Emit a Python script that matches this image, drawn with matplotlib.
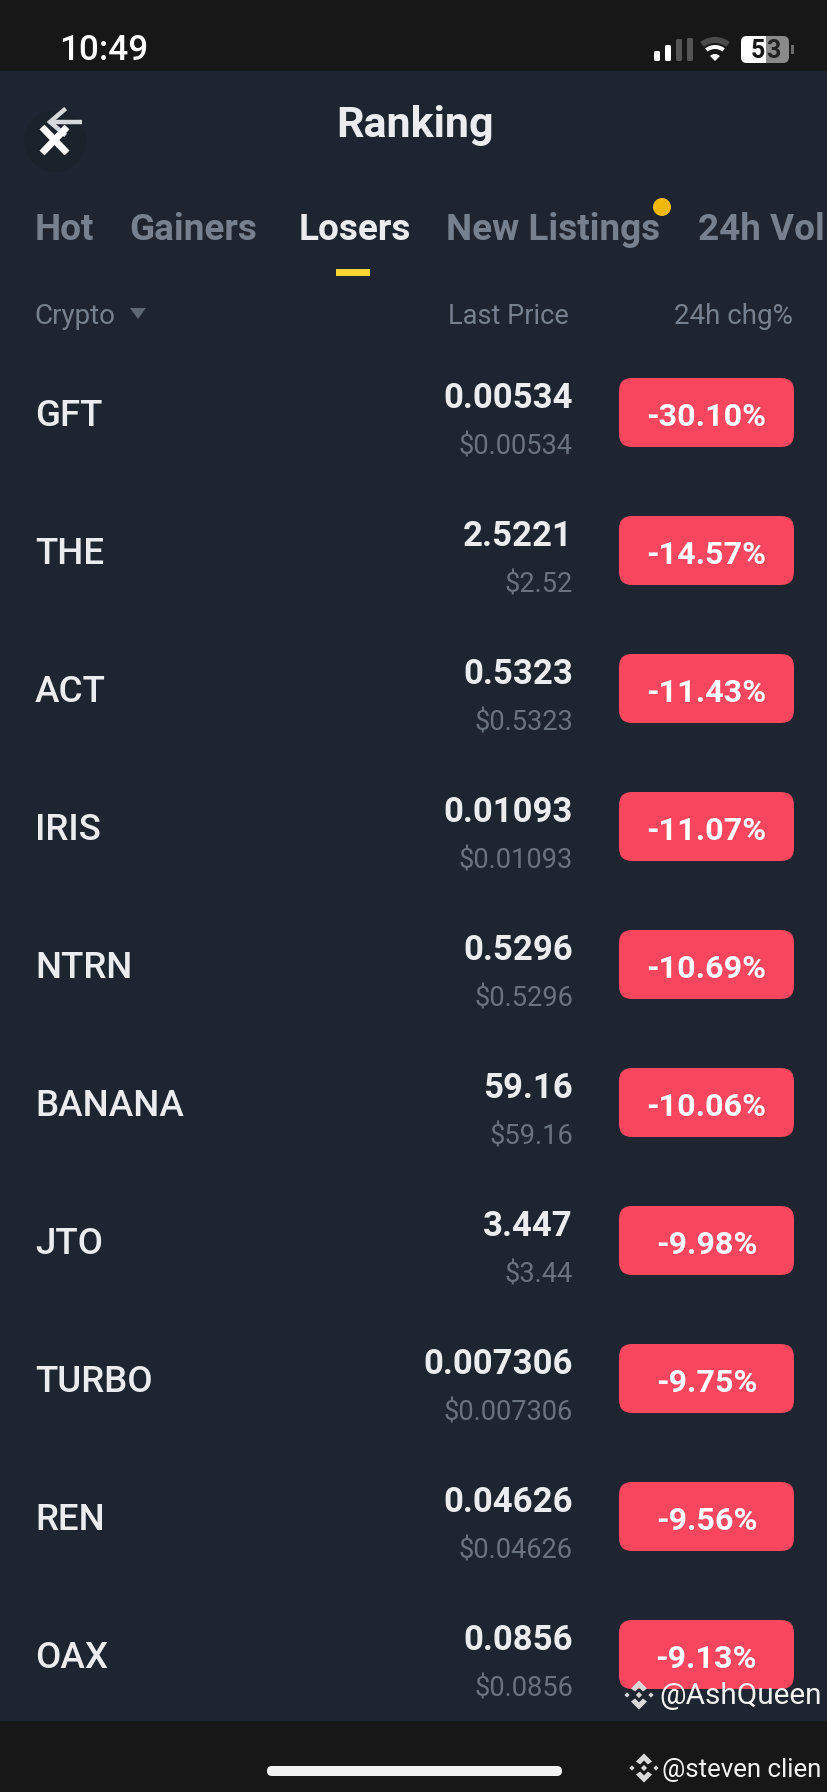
#!/usr/bin/env python3
"""Binance "Losers" ranking screen, redrawn with matplotlib. Saves out.png."""
import matplotlib

matplotlib.use("Agg")
import matplotlib.pyplot as plt
from matplotlib.patches import Circle, FancyBboxPatch, Polygon, Rectangle, Wedge

plt.rcParams["font.family"] = ["Roboto", "DejaVu Sans"]

SYMBOLS = ["GFT", "THE", "ACT", "IRIS", "NTRN", "BANANA", "JTO", "TURBO", "REN", "OAX"]
PRICES = ["0.00534", "2.5221", "0.5323", "0.01093", "0.5296", "59.16", "3.447",
          "0.007306", "0.04626", "0.0856"]
USD_PRICES = ["$0.00534", "$2.52", "$0.5323", "$0.01093", "$0.5296", "$59.16", "$3.44",
              "$0.007306", "$0.04626", "$0.0856"]
CHANGES = [-30.10, -14.57, -11.43, -11.07, -10.69, -10.06, -9.98, -9.75, -9.56, -9.13]

TABS = ["Hot", "Gainers", "Losers", "New Listings", "24h Vol"]
TAB_X = [35, 129, 299, 446, 698]
ACTIVE_TAB = "Losers"

BG = "#1E2530"
BAR = "#171717"
RED = "#F8465F"
WHITE = "#EAECEF"
GREY = "#76808F"
DIM = "#6A7280"

W, H = 828, 1792
ROW0, ROW_STEP = 412.5, 138


def diamond_logo(ax, cx, cy, s, color="#D8D8D8"):
    # four chevron-ish blobs and a centre square, Binance style
    for dx, dy in [(0, -s * 0.62), (0, s * 0.62)]:
        sign = -1 if dy < 0 else 1
        ax.add_patch(Polygon([(cx, cy + dy + sign * s * 0.5), (cx - s * 0.62, cy + dy - sign * s * 0.12),
                              (cx - s * 0.3, cy + dy - sign * s * 0.35), (cx, cy + dy - sign * s * 0.05),
                              (cx + s * 0.3, cy + dy - sign * s * 0.35), (cx + s * 0.62, cy + dy - sign * s * 0.12)],
                             closed=True, fc=color, ec="none", zorder=6))
    for dx in (-s * 0.92, s * 0.92, 0):
        r = s * 0.2 if dx else s * 0.24
        ax.add_patch(Polygon([(cx + dx - r, cy), (cx + dx, cy - r), (cx + dx + r, cy), (cx + dx, cy + r)],
                             closed=True, fc=color, ec="none", zorder=6))


def status_bar(ax):
    ax.text(59, 50, "10:49", color="white", fontsize=25.2, fontweight="medium", va="center", ha="left")
    for i, (h, c) in enumerate(zip([10, 16, 22, 23], ["white", "white", "#555555", "#555555"])):
        ax.add_patch(FancyBboxPatch((654 + i * 11, 61 - h), 6, h, boxstyle="round,pad=0,rounding_size=1.5",
                                    fc=c, ec="none"))
    ax.add_patch(Wedge((715, 61), 24, 232, 308, width=6, fc="#4A4A4A", ec="none"))
    ax.add_patch(Wedge((715, 61), 16, 232, 308, width=4, fc="white", ec="none"))
    ax.add_patch(Wedge((715, 61), 7, 225, 315, fc="white", ec="none"))
    ax.add_patch(FancyBboxPatch((741, 36), 48, 27, boxstyle="round,pad=0,rounding_size=6", fc="#8A8A8A", ec="none"))
    ax.add_patch(FancyBboxPatch((741, 36), 25, 27, boxstyle="round,pad=0,rounding_size=6", fc="white", ec="none"))
    ax.add_patch(Rectangle((758, 36), 8, 27, fc="white", ec="none"))
    ax.add_patch(Rectangle((791, 45), 3, 9, fc="#6A6A6A", ec="none"))
    ax.text(758, 50.5, "5", color="#171717", fontsize=18, fontweight="bold", ha="center", va="center")
    ax.text(773, 50.5, "3", color="#222222", fontsize=18, fontweight="bold", ha="center", va="center")


def nav_icons(ax):
    ax.add_patch(Circle((55, 141), 31, fc="#1C222C", ec="none"))
    ax.plot([52, 82], [122, 122], color="#D5D8DC", lw=3.2, solid_capstyle="butt")
    ax.plot([64, 50, 64], [110, 122, 134], color="#D5D8DC", lw=3.2, solid_joinstyle="miter")
    ax.plot([42, 67], [127, 153], color="white", lw=5, solid_capstyle="butt")
    ax.plot([67, 42], [127, 153], color="white", lw=5, solid_capstyle="butt")


def main():
    fig = plt.figure(figsize=(W / 100, H / 100), dpi=100, facecolor=BG)
    ax = fig.add_axes([0, 0, 1, 1])
    ax.set_xlim(0, W)
    ax.set_ylim(H, 0)
    ax.axis("off")

    ax.add_patch(Rectangle((0, 0), W, 71, fc=BAR, ec="none"))
    ax.add_patch(Rectangle((0, 1721), W, H - 1721, fc=BAR, ec="none"))
    status_bar(ax)
    nav_icons(ax)

    ax.text(415, 125, "Ranking", color=WHITE, fontsize=31, fontweight="bold", ha="center", va="center")

    for name, x in zip(TABS, TAB_X):
        ax.text(x, 240, name, color=WHITE if name == ACTIVE_TAB else GREY, fontsize=26.6,
                fontweight="bold", ha="left", va="baseline", clip_on=True)
    ax.add_patch(Circle((662, 207), 9, fc="#F0B90B", ec="none", zorder=4))
    ax.add_patch(Rectangle((336, 269), 34, 7, fc="#FCD535", ec="none"))

    ax.text(34, 324, "Crypto", color=GREY, fontsize=20, ha="left", va="baseline")
    ax.add_patch(Polygon([(130, 308), (146, 308), (138, 319)], closed=True, fc="#5E6673", ec="none"))
    ax.text(569, 324, "Last Price", color=GREY, fontsize=19.5, ha="right", va="baseline")
    ax.text(793, 324, "24h chg%", color=GREY, fontsize=20, ha="right", va="baseline")

    for i, (sym, price, usd, chg) in enumerate(zip(SYMBOLS, PRICES, USD_PRICES, CHANGES)):
        y = ROW0 + i * ROW_STEP
        ax.text(35, y + 14, sym, color=WHITE, fontsize=26.5, fontweight="medium", ha="left", va="baseline")
        ax.text(573, y - 5, price, color=WHITE, fontsize=25, fontweight="bold", ha="right", va="baseline")
        ax.text(573, y + 42, usd, color=DIM, fontsize=19.6, ha="right", va="baseline")
        ax.add_patch(FancyBboxPatch((619, y - 34.5), 175, 69, boxstyle="round,pad=0,rounding_size=13",
                                    fc=RED, ec="none", zorder=3))
        ax.text(706.5, y + 14, f"{chg:.2f}%", color="white", fontsize=23.3, fontweight="bold",
                ha="center", va="baseline", zorder=4)

    diamond_logo(ax, 639, 1695, 13)
    ax.text(659, 1704, "@AshQueen", color="#F2F2F2", fontsize=21.4, ha="left", va="baseline", zorder=6)
    ax.add_patch(FancyBboxPatch((267, 1766), 295, 10, boxstyle="round,pad=0,rounding_size=5", fc="#F2F2F2", ec="none"))
    diamond_logo(ax, 644, 1768, 13)
    ax.text(662, 1777, "@steven clien", color="#F2F2F2", fontsize=18.6, ha="left", va="baseline", zorder=6)

    fig.savefig("out.png", dpi=100, facecolor=BG)
    plt.close(fig)


if __name__ == "__main__":
    main()
